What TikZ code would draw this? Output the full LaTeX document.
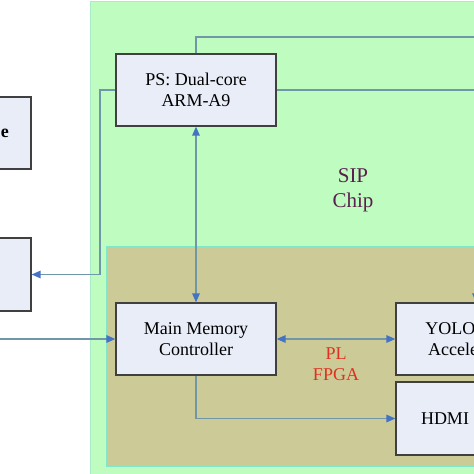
\documentclass[tikz,border=0pt]{standalone}
\usepackage{fontspec}
\setmainfont{Liberation Serif}
\usetikzlibrary{arrows.meta,calc}
\definecolor{sipgreen}{HTML}{BEFCBF}
\definecolor{sipedge}{HTML}{A8ECC8}
\definecolor{pltan}{HTML}{CCCB98}
\definecolor{pledge}{HTML}{80E8C8}
\definecolor{boxfill}{HTML}{E8EDF8}
\definecolor{boxedge}{HTML}{404040}
\definecolor{linecol}{HTML}{7097A8}
\definecolor{arrowblue}{HTML}{4472C4}
\definecolor{plred}{HTML}{E0301E}
\definecolor{sippurple}{HTML}{5B1F4F}
\tikzset{
  blk/.style={draw=boxedge, fill=boxfill, line width=1.2pt, minimum width=160pt,
    minimum height=72pt, inner sep=0pt, align=center,
    font=\fontsize{18}{21.5}\selectfont},
  conn/.style={draw=linecol, line width=1.4pt},
  arr/.style={conn, -{Triangle[length=9pt,width=7.5pt,color=arrowblue]}},
  darr/.style={conn, {Triangle[length=9pt,width=7.5pt,color=arrowblue]}-{Triangle[length=9pt,width=7.5pt,color=arrowblue]}}
}
\begin{document}
\begin{tikzpicture}[x=1pt,y=-1pt]
\useasboundingbox (0,0) rectangle (474,474);
\clip (0,0) rectangle (474,474);
% regions
\fill[white] (0,0) rectangle (474,474);
\draw[fill=sipgreen, draw=sipedge, line width=1.5pt] (90.5,1.5) rectangle (500,500);
\draw[fill=pltan, draw=pledge, line width=2pt] (107,247) rectangle (500,466);
% boxes
\node[blk] (ps) at (196,90) {PS: Dual-core\\ARM-A9};
\node[blk, minimum width=91pt] (ul) at (-14.5,133) {};
\node[anchor=east, inner sep=0pt, font=\fontsize{18}{21.5}\selectfont\bfseries] (ult) at (9,133) {e};
\node[blk, minimum width=91pt, minimum height=73pt] (ll) at (-14.5,274.5) {};
\node[blk] (mmc) at (196,339) {Main Memory\\Controller};
\node[blk, minimum width=148pt] (yolo) at (470,339) {YOLO-Tiny\\Accelerator};
\node[blk, minimum width=98pt, minimum height=73pt] (hdmi) at (445,418.5) {HDMI};
% labels
\node[font=\fontsize{21}{25}\selectfont, text=sippurple, align=center] (sip) at (353,190) {SIP\\Chip};
\node[font=\fontsize{18}{21}\selectfont, text=plred, align=center] (pl) at (336,364) {PL\\FPGA};
% free ends
\coordinate (tr) at (476,37);
\coordinate (pse) at (490,90);
\coordinate (lin) at (-5,339);
% connectors
\draw[darr] (ps.south) -- (mmc.north);
\draw[arr] (ps.west) -| (100,274.5) -- (ll.east);
\draw[arr] (lin) -- (mmc.west);
\draw[darr] (mmc.east) -- (yolo.west);
\draw[arr] (mmc.south) |- (hdmi.west);
\draw[arr] (ps.north) |- (tr) -- (tr |- yolo.north);
\draw[conn] (ps.east) -- (pse);
\end{tikzpicture}
\end{document}
